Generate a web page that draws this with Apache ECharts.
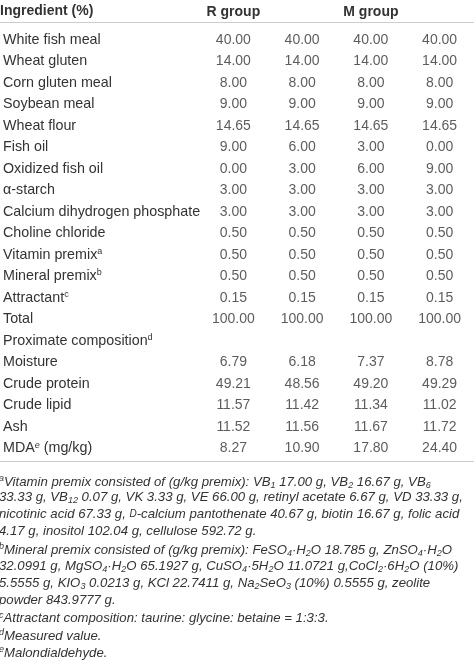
<!DOCTYPE html>
<html><head><meta charset="utf-8">
<script src="https://cdn.jsdelivr.net/npm/echarts@6/dist/echarts.min.js"></script>
<style>html,body{margin:0;padding:0;background:#fff}#c{width:474px;height:661px}</style>
</head><body><div id="c"></div>
<script>
const headers = ['R group','L group','M group','H group'];
const firstHeader = 'Ingredient (%)';
const ingredients = ['White fish meal','Wheat gluten','Corn gluten meal','Soybean meal','Wheat flour','Fish oil','Oxidized fish oil','α-starch','Calcium dihydrogen phosphate','Choline chloride','Vitamin premix{sup|a}','Mineral premix{sup|b}','Attractant{sup|c}','Total','Proximate composition{sup|d}','Moisture','Crude protein','Crude lipid','Ash','MDA{supi|e} (mg/kg)'];
const rGroup = ['40.00','14.00','8.00','9.00','14.65','9.00','0.00','3.00','3.00','0.50','0.50','0.50','0.15','100.00','','6.79','49.21','11.57','11.52','8.27'];
const lGroup = ['40.00','14.00','8.00','9.00','14.65','6.00','3.00','3.00','3.00','0.50','0.50','0.50','0.15','100.00','','6.18','48.56','11.42','11.56','10.90'];
const mGroup = ['40.00','14.00','8.00','9.00','14.65','3.00','6.00','3.00','3.00','0.50','0.50','0.50','0.15','100.00','','7.37','49.20','11.34','11.67','17.80'];
const hGroup = ['40.00','14.00','8.00','9.00','14.65','0.00','9.00','3.00','3.00','0.50','0.50','0.50','0.15','100.00','','8.78','49.29','11.02','11.72','24.40'];
const footnotes = [
 '{sup|a}Vitamin premix consisted of (g/kg premix): VB{sub|1} 17.00 g, VB{sub|2} 16.67 g, VB{sub|6}',
 '33.33 g, VB{sub|12} 0.07 g, VK 3.33 g, VE 66.00 g, retinyl acetate 6.67 g, VD 33.33 g,',
 'nicotinic acid 67.33 g, {sc|D}-calcium pantothenate 40.67 g, biotin 16.67 g, folic acid',
 '4.17 g, inositol 102.04 g, cellulose 592.72 g.',
 '{sup|b}Mineral premix consisted of (g/kg premix): FeSO{sub|4}·H{sub|2}O 18.785 g, ZnSO{sub|4}·H{sub|2}O',
 '32.0991 g, MgSO{sub|4}·H{sub|2}O 65.1927 g, CuSO{sub|4}·5H{sub|2}O 11.0721 g,CoCl{sub|2}·6H{sub|2}O (10%)',
 '5.5555 g, KIO{sub|3} 0.0213 g, KCl 22.7411 g, Na{sub|2}SeO{sub|3} (10%) 0.5555 g, zeolite',
 'powder 843.9777 g.',
 '{sup|c}Attractant composition: taurine: glycine: betaine = 1:3:3.',
 '{sup|d}Measured value.',
 '{sup|e}Malondialdehyde.'
];
const groups = [rGroup,lGroup,mGroup,hGroup];
const FONT = '"Liberation Sans", Arial, sans-serif';
const series = groups.map((g,i)=>({
  type:'scatter', symbolSize:0, silent:true,
  data:g.map((v,j)=>({value:[headers[i],ingredients[j]],txt:v})),
  label:{show:true,position:'inside',color:'#333',fontSize:14,fontFamily:FONT,formatter:p=>p.data.txt}
}));
const fnRich = {
  sup:{fontSize:9,fontStyle:'italic',fill:'#333',padding:[0,0,7,0],fontFamily:FONT},
  sub:{fontSize:9,fontStyle:'italic',fill:'#333',padding:[6,0,0,0],fontFamily:FONT},
  sc:{fontSize:10,fontStyle:'italic',fill:'#333',fontFamily:FONT}
};
const graphics = [
  {type:'text',left:0,top:4,style:{text:firstHeader,fontSize:14,fontWeight:'bold',fill:'#333',fontFamily:FONT}},
  {type:'line',shape:{x1:0,y1:22.5,x2:474,y2:22.5},style:{stroke:'#ccc',lineWidth:1}},
  {type:'line',shape:{x1:0,y1:461.5,x2:474,y2:461.5},style:{stroke:'#ccc',lineWidth:1}}
].concat(footnotes.map((t,i)=>({type:'text',left:-1,top:474+i*17.1,style:{text:t,fontSize:13.2,fontStyle:'italic',fill:'#333',fontFamily:FONT,rich:fnRich}})));
const chart = echarts.init(document.getElementById('c'));
chart.setOption({
  animation:false,
  grid:{left:196,top:29.25,right:-13,height:430},
  xAxis:{type:'category',data:headers,position:'top',axisLine:{show:false},axisTick:{show:false},
    axisLabel:{margin:10,fontSize:14,fontWeight:'bold',color:'#333',fontFamily:FONT}},
  yAxis:{type:'category',data:ingredients,inverse:true,axisLine:{show:false},axisTick:{show:false},
    axisLabel:{align:'left',margin:196,fontSize:14.3,color:'#333',fontFamily:FONT,
      rich:{sup:{fontSize:9,color:'#333',padding:[0,0,7,0],fontFamily:FONT},
        supi:{fontSize:9,fontStyle:'italic',color:'#333',padding:[0,0,7,0],fontFamily:FONT}}}},
  series:series,
  graphic:graphics
});
</script></body></html>
